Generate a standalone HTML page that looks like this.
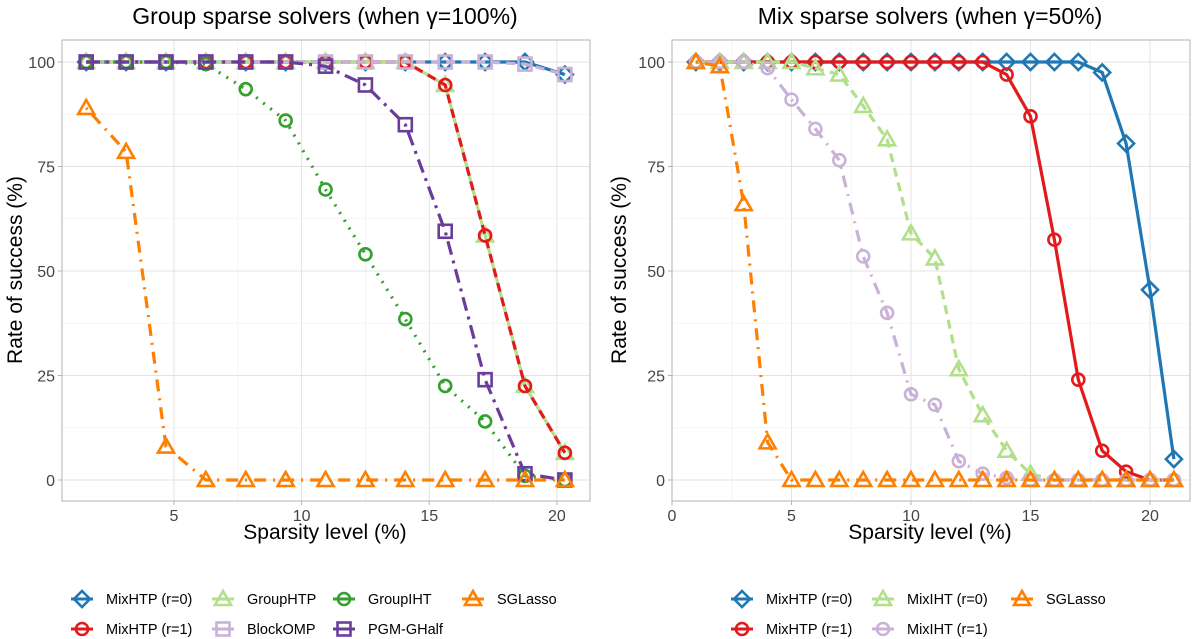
<!DOCTYPE html>
<html><head><meta charset="utf-8"><style>
body{margin:0;background:#fff;}
svg{display:block;font-family:"Liberation Sans",Arial,sans-serif;}
</style></head><body>
<svg id="c" width="1200" height="639" viewBox="0 0 1200 639">
<text x="325" y="24" font-size="23" text-anchor="middle" fill="#000">Group sparse solvers (when γ=100%)</text>
<text x="930" y="24" font-size="23" text-anchor="middle" fill="#000">Mix sparse solvers (when γ=50%)</text>
<text x="325" y="539" font-size="21" text-anchor="middle">Sparsity level (%)</text>
<text x="930" y="539" font-size="21" text-anchor="middle">Sparsity level (%)</text>
<text transform="translate(22,270) rotate(-90)" font-size="21" text-anchor="middle">Rate of success (%)</text>
<text transform="translate(626,270) rotate(-90)" font-size="21" text-anchor="middle">Rate of success (%)</text>
<g id="g"></g>
</svg>
<script>
const yTicks=[0,25,50,75,100];
const leftXTicks=[5,10,15,20];
const rightXTicks=[0,5,10,15,20];
const leftK=[1,2,3,4,5,6,7,8,9,10,11,12,13];
const mixR0L=[100,100,100,100,100,100,100,100,100,100,100,100,97];
const mixR1L=[100,100,100,100,100,100,100,100,100,94.5,58.5,22.5,6.5];
const groupHTP=[100,100,100,100,100,100,100,100,100,94.5,58.5,22.5,6.5];
const groupIHT=[100,100,100,99.5,93.5,86,69.5,54,38.5,22.5,14,1,0];
const blockOMP=[100,100,100,100,100,100,100,100,100,100,100,99.5,97];
const pgm=[100,100,100,100,100,100,99,94.5,85,59.5,24,1.5,0];
const sgL=[89,78.5,8,0,0,0,0,0,0,0,0,0,0];
const rightX=[1,2,3,4,5,6,7,8,9,10,11,12,13,14,15,16,17,18,19,20,21];
const mixR0R=[100,100,100,100,100,100,100,100,100,100,100,100,100,100,100,100,100,97.5,80.5,45.5,5];
const mixR1R=[100,100,100,100,100,100,100,100,100,100,100,100,100,97,87,57.5,24,7,2,0,0];
const ihtR0=[100,100,100,100,100,98.5,97,89.5,81.5,59,53,26.5,15.5,7,1.5,0,0,0,0,0,0];
const ihtR1=[100,100,100,98.5,91,84,76.5,53.5,40,20.5,18,4.5,1.5,0.5,0,0,0,0,0,0,0];
const sgR=[100,99,66,9,0,0,0,0,0,0,0,0,0,0,0,0,0,0,0,0,0];

const NS="http://www.w3.org/2000/svg";
const G=document.getElementById('g');
function mk(t,a,p){const e=document.createElementNS(NS,t);for(const k in a)e.setAttribute(k,a[k]);(p||G).appendChild(e);return e;}
const yS=v=>480-4.18*v;
const lx=v=>46.3+25.53*v;
const rx=v=>672+23.9*v;
const C={b:'#1F78B4',r:'#E31A1C',lg:'#B2DF8A',lp:'#CAB2D6',g:'#33A02C',p:'#6A3D9A',o:'#FF7F00'};
const DASH={solid:'',dashed:'9,6',dotted:'2,7',dotdash:'2,7,12,7',longdash:'16,6',twodash:'14,6,3,6'};

function panel(x0,x1,xs,ticks,name){
  const pg=mk('g',{});
  
  
  mk('rect',{x:x0,y:40,width:x1-x0,height:461,fill:'#fff'},pg);
  for(let i=0;i<ticks.length;i++){
    if(i<ticks.length-1){const m=(ticks[i]+ticks[i+1])/2;mk('line',{x1:xs(m),x2:xs(m),y1:40,y2:501,stroke:'#f2f2f2','stroke-width':0.8},pg);}
  }
  for(let i=0;i<yTicks.length-1;i++){const m=(yTicks[i]+yTicks[i+1])/2;mk('line',{x1:x0,x2:x1,y1:yS(m),y2:yS(m),stroke:'#f2f2f2','stroke-width':0.8},pg);}
  ticks.forEach(t=>{mk('line',{x1:xs(t),x2:xs(t),y1:40,y2:501,stroke:'#e3e3e3','stroke-width':1},pg);
    const tl=mk('text',{x:xs(t),y:521,'font-size':16,fill:'#444','text-anchor':'middle'},pg);tl.textContent=t;
    
    
    mk('line',{x1:xs(t),x2:xs(t),y1:501,y2:505,stroke:'#b3b3b3'},pg);});
  yTicks.forEach(t=>{mk('line',{x1:x0,x2:x1,y1:yS(t),y2:yS(t),stroke:'#e3e3e3','stroke-width':1},pg);
    const tl=mk('text',{x:x0-7,y:yS(t)+6,'font-size':16,fill:'#444','text-anchor':'end'},pg);tl.textContent=t;
    
    
    mk('line',{x1:x0-4,x2:x0,y1:yS(t),y2:yS(t),stroke:'#b3b3b3'},pg);});
  mk('rect',{x:x0,y:40,width:x1-x0,height:461,fill:'none',stroke:'#b3b3b3','stroke-width':1},pg);
}
panel(62,590,lx,leftXTicks,'left-panel');
panel(672,1190,rx,rightXTicks,'right-panel');

function marker(shape,x,y,col,p){
  const s={fill:'none',stroke:col,'stroke-width':2.6};
  let e;
  if(shape==='diamond')e=mk('polygon',Object.assign({points:`${x},${y-8} ${x+8},${y} ${x},${y+8} ${x-8},${y}`},s),p);
  else if(shape==='circle')e=mk('circle',Object.assign({cx:x,cy:y,r:6},s),p);
  else if(shape==='square')e=mk('rect',Object.assign({x:x-6.5,y:y-6.5,width:13,height:13},s),p);
  else e=mk('polygon',Object.assign({points:`${x},${y-8} ${x+8},${y+6} ${x-8},${y+6}`},s),p);
  return e;
}
function series(name,xv,yv,xs,col,dash,shape){
  const sg=mk('g',{});
  
  
  const pts=xv.map((v,i)=>xs(v)+','+yS(yv[i])).join(' ');
  mk('polyline',{points:pts,fill:'none',stroke:col,'stroke-width':3.2,'stroke-dasharray':DASH[dash],'stroke-linecap':'butt'},sg);
  xv.forEach((v,i)=>{const m=marker(shape,xs(v),yS(yv[i]),col,sg);
    
    });
}
const Lx=leftK.map(k=>1.5625*k);
series('mixhtp-r0-left',Lx,mixR0L,lx,C.b,'solid','diamond');
series('grouphtp',Lx,groupHTP,lx,C.lg,'solid','triangle');
series('mixhtp-r1-left',Lx,mixR1L,lx,C.r,'dashed','circle');
series('blockomp',Lx,blockOMP,lx,C.lp,'dashed','square');
series('groupiht',Lx,groupIHT,lx,C.g,'dotted','circle');
series('pgm-ghalf',Lx,pgm,lx,C.p,'twodash','square');
series('sglasso-left',Lx,sgL,lx,C.o,'dotdash','triangle');

series('mixhtp-r0-right',rightX,mixR0R,rx,C.b,'solid','diamond');
series('mixhtp-r1-right',rightX,mixR1R,rx,C.r,'solid','circle');
series('mixiht-r0',rightX,ihtR0,rx,C.lg,'dashed','triangle');
series('mixiht-r1',rightX,ihtR1,rx,C.lp,'dotdash','circle');
series('sglasso-right',rightX,sgR,rx,C.o,'dotdash','triangle');

function legend(x,y,label,col,shape){
  const lg=mk('g',{});
  
  
  mk('line',{x1:x-11,x2:x+11,y1:y,y2:y,stroke:col,'stroke-width':3},lg);
  marker(shape,x,y,col,lg);
  const t=mk('text',{x:x+24,y:y+5,'font-size':14.5,fill:'#000'},lg);t.textContent=label;
}
legend(82,599,'MixHTP (r=0)',C.b,'diamond');
legend(82,629,'MixHTP (r=1)',C.r,'circle');
legend(223,599,'GroupHTP',C.lg,'triangle');
legend(223,629,'BlockOMP',C.lp,'square');
legend(344,599,'GroupIHT',C.g,'circle');
legend(344,629,'PGM-GHalf',C.p,'square');
legend(473,599,'SGLasso',C.o,'triangle');
legend(742,599,'MixHTP (r=0)',C.b,'diamond');
legend(742,629,'MixHTP (r=1)',C.r,'circle');
legend(883,599,'MixIHT (r=0)',C.lg,'triangle');
legend(883,629,'MixIHT (r=1)',C.lp,'circle');
legend(1022,599,'SGLasso',C.o,'triangle');
</script>
</body></html>
